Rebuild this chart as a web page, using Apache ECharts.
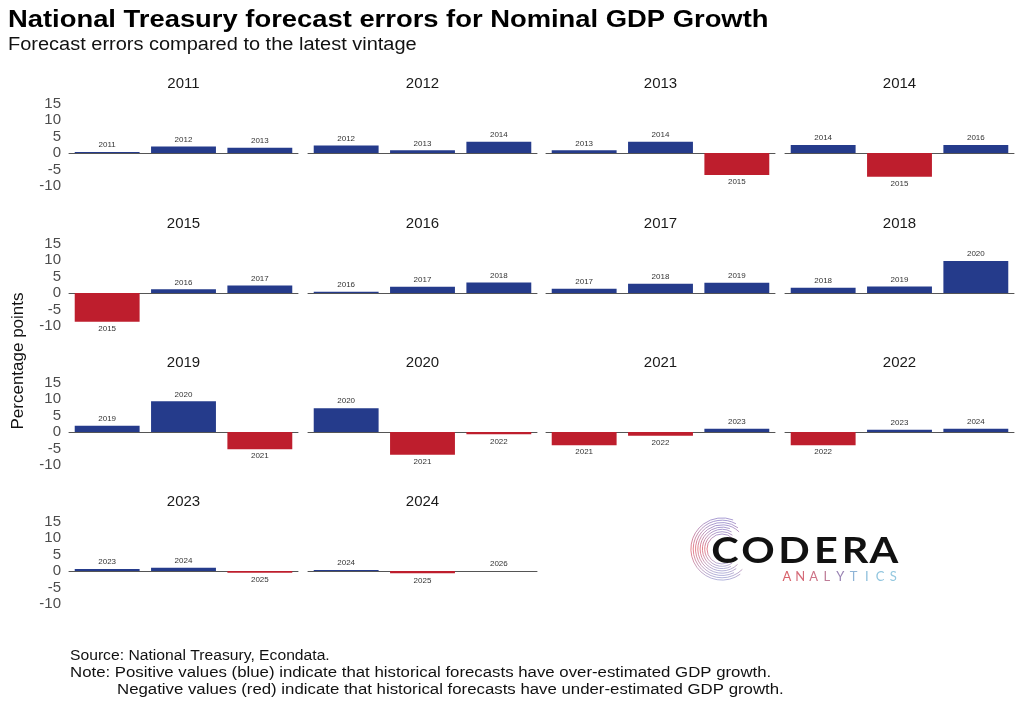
<!DOCTYPE html>
<html>
<head>
<meta charset="utf-8">
<script src="https://cdn.jsdelivr.net/npm/echarts@6/dist/echarts.min.js"></script>
<style>
  html, body { margin: 0; padding: 0; background: #fff; }
  #chart { width: 1024px; height: 709px; }
</style>
</head>
<body>
<div id="chart"></div>
<script>
// forecast vintage (one panel each)
const panelYears = ['2011', '2012', '2013', '2014', '2015', '2016', '2017',
  '2018', '2019', '2020', '2021', '2022', '2023', '2024']
// years being forecast in each panel
const targetYears = [
  ['2011', '2012', '2013'], ['2012', '2013', '2014'], ['2013', '2014', '2015'],
  ['2014', '2015', '2016'], ['2015', '2016', '2017'], ['2016', '2017', '2018'],
  ['2017', '2018', '2019'], ['2018', '2019', '2020'], ['2019', '2020', '2021'],
  ['2020', '2021', '2022'], ['2021', '2022', '2023'], ['2022', '2023', '2024'],
  ['2023', '2024', '2025'], ['2024', '2025', '2026']
]
// forecast errors, percentage points
const errors = [
  [0.3, 2.0, 1.6], [2.3, 0.8, 3.4], [0.8, 3.4, -6.7], [2.4, -7.2, 2.4],
  [-8.7, 1.1, 2.3], [0.4, 1.9, 3.2], [1.3, 2.8, 3.1], [1.6, 2.0, 9.7],
  [1.9, 9.3, -5.2], [7.2, -6.9, -0.7], [-4.0, -1.1, 1.0], [-4.0, 0.7, 1.0],
  [0.6, 1.0, -0.5], [0.3, -0.7, 0]
]
const yTicks = [-10, -5, 0, 5, 10, 15]

const chart = echarts.init(document.getElementById('chart'))

const BLUE = '#253b8b'
const RED = '#be1e2d'
const FONT = '"Liberation Sans", Arial, sans-serif'

// panel layout
const colLeft = [69, 308, 546, 785]
const rowZero = [153, 293, 432, 571]
const panelW = 229
const pxPerUnit = 3.3
const yMin = yTicks[0]
const yMax = yTicks[yTicks.length - 1]

const grids = []
const xAxes = []
const yAxes = []
const series = []
const graphics = []

panelYears.forEach((yr, i) => {
  const row = Math.floor(i / 4)
  const col = i % 4
  grids.push({
    left: colLeft[col],
    top: rowZero[row] - yMax * pxPerUnit,
    width: panelW,
    height: (yMax - yMin) * pxPerUnit
  })
  xAxes.push({
    type: 'category',
    gridIndex: i,
    data: targetYears[i],
    axisLine: { onZero: true, lineStyle: { color: '#555', width: 1 } },
    axisTick: { show: false },
    axisLabel: { show: false }
  })
  yAxes.push({
    type: 'value',
    gridIndex: i,
    min: yMin,
    max: yMax,
    interval: 5,
    splitLine: { show: false },
    axisLine: { show: false },
    axisTick: { show: false },
    axisLabel: { show: col === 0, fontSize: 15, color: '#4d4d4d', margin: 8, fontFamily: FONT }
  })
  series.push({
    type: 'bar',
    xAxisIndex: i,
    yAxisIndex: i,
    barCategoryGap: '15%',
    silent: true,
    data: errors[i].map(v => ({
      value: v,
      itemStyle: { color: v < 0 ? RED : BLUE },
      label: { position: v < 0 ? 'bottom' : 'top' }
    })),
    label: {
      show: true,
      formatter: '{b}',
      fontSize: 8,
      distance: 3,
      color: '#333',
      fontFamily: FONT
    }
  })
  // panel title
  graphics.push({
    type: 'text',
    x: colLeft[col] + panelW / 2,
    y: rowZero[row] - 69.5,
    style: {
      text: yr, font: '15px ' + FONT, fill: '#1a1a1a',
      textAlign: 'center', textVerticalAlign: 'middle'
    }
  })
})

// titles, axis name, notes (the original font runs wider than Liberation Sans)
graphics.push(
  { type: 'text', x: 8, y: 21, scaleX: 1.19, style: { text: 'National Treasury forecast errors for Nominal GDP Growth', font: 'bold 23px ' + FONT, fill: '#000', textVerticalAlign: 'middle' } },
  { type: 'text', x: 8, y: 45, scaleX: 1.11, style: { text: 'Forecast errors compared to the latest vintage', font: '18px ' + FONT, fill: '#111', textVerticalAlign: 'middle' } },
  { type: 'text', x: 18, y: 361, rotation: Math.PI / 2, style: { text: 'Percentage points', font: '17px ' + FONT, fill: '#111', textAlign: 'center', textVerticalAlign: 'middle' } },
  { type: 'text', x: 70, y: 656, scaleX: 1.12, style: { text: 'Source: National Treasury, Econdata.', font: '14px ' + FONT, fill: '#111', textVerticalAlign: 'middle' } },
  { type: 'text', x: 70, y: 673, scaleX: 1.2, style: { text: 'Note: Positive values (blue) indicate that historical forecasts have over-estimated GDP growth.', font: '14px ' + FONT, fill: '#111', textVerticalAlign: 'middle' } },
  { type: 'text', x: 117, y: 690, scaleX: 1.2, style: { text: 'Negative values (red) indicate that historical forecasts have under-estimated GDP growth.', font: '14px ' + FONT, fill: '#111', textVerticalAlign: 'middle' } }
)

// logo: circuit-like "C" emblem
const emblemGrad = new echarts.graphic.LinearGradient(0, 0, 0, 1, [
  { offset: 0, color: '#8a86d0' },
  { offset: 0.5, color: '#e0606c' },
  { offset: 1, color: '#9aa6dc' }
])
for (let k = 0; k < 8; k++) {
  const r = 15 + k * 2.3
  const a0 = (45 + (k % 3) * 9) * Math.PI / 180
  const a1 = (315 - (k % 4) * 8) * Math.PI / 180
  graphics.push({
    type: 'arc',
    shape: { cx: 722, cy: 549, r: r, startAngle: a0, endAngle: a1, clockwise: true },
    style: { stroke: emblemGrad, fill: null, lineWidth: 0.8 }
  })
}
const logoLetters = ['C', 'O', 'D', 'E', 'R', 'A']
const logoX = [725, 758, 794, 826, 855, 884]
logoLetters.forEach((ch, k) => {
  graphics.push({
    type: 'text', x: logoX[k], y: 551, scaleX: 1.15,
    style: { text: ch, font: 'bold 36px Lato, sans-serif', fill: '#111', textAlign: 'center', textVerticalAlign: 'middle' }
  })
})
const subLetters = ['A', 'N', 'A', 'L', 'Y', 'T', 'I', 'C', 'S']
const subColors = ['#d9636b', '#d56a78', '#cd7387', '#bf7d98', '#9a84b4', '#8fb4d6', '#8fc0dc', '#90c5de', '#94c8df']
subLetters.forEach((ch, k) => {
  graphics.push({
    type: 'text', x: 787 + k * 13.3, y: 577,
    style: { text: ch, font: '13px Lato, sans-serif', fill: subColors[k], textAlign: 'center', textVerticalAlign: 'middle' }
  })
})

chart.setOption({
  backgroundColor: '#fff',
  animation: false,
  grid: grids,
  xAxis: xAxes,
  yAxis: yAxes,
  series: series,
  graphic: graphics
})
</script>
</body>
</html>
